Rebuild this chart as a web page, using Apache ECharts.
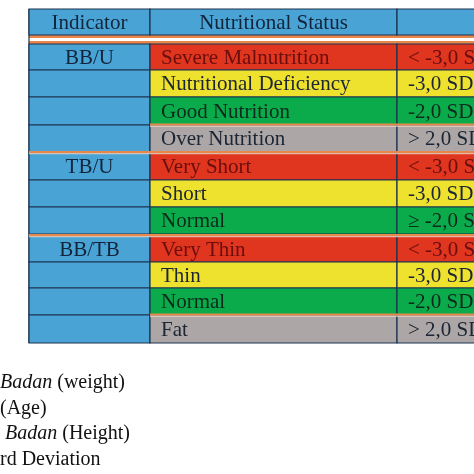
<!DOCTYPE html>
<html>
<head>
<meta charset="utf-8">
<script src="https://cdn.jsdelivr.net/npm/echarts@6/dist/echarts.min.js"></script>
<style>html,body{margin:0;padding:0;background:#fff}#main{width:474px;height:474px}</style>
</head>
<body>
<div id="main"></div>
<script>
// table content
var headers = ['Indicator', 'Nutritional Status', 'Z-Score'];
var indicators = ['BB/U', 'TB/U', 'BB/TB'];
var statuses = [
  ['Severe Malnutrition', 'Nutritional Deficiency', 'Good Nutrition', 'Over Nutrition'],
  ['Very Short', 'Short', 'Normal'],
  ['Very Thin', 'Thin', 'Normal', 'Fat']
];
var ranges = [
  ['< -3,0 SD', '-3,0 SD s/d < -2,0 SD', '-2,0 SD s/d 2,0 SD', '> 2,0 SD'],
  ['< -3,0 SD', '-3,0 SD s/d < -2,0 SD', '≥ -2,0 SD'],
  ['< -3,0 SD', '-3,0 SD s/d < -2,0 SD', '-2,0 SD s/d 2,0 SD', '> 2,0 SD']
];
var levels = [[0, 1, 2, 3], [0, 1, 2], [0, 1, 2, 3]];
var notes = [
  [{t: 'Badan', i: true}, {t: ' (weight)'}],
  [{t: '(Age)'}],
  [{t: ' Badan', i: true}, {t: ' (Height)'}],
  [{t: 'rd Deviation'}]
];

// layout
var colX = [29, 150, 397, 600];
var rowTop = [[44, 70, 97, 125, 152], [153, 180, 207, 234], [236, 262, 288, 315, 343]];
var fills = ['#e0351f', '#efe22f', '#0bab4b', '#aca6a6'];
var txtCol = ['#6a0e0e', '#1b2533', '#0f2a1c', '#1b2533'];
var blue = '#4aa3d5', line = '#1c3350', orange = '#e8874c';
var font = '"Liberation Serif", "Times New Roman", serif';

var cells = [];
cells.push([colX[0], 9, colX[1], 35, blue, headers[0], '#12243a', 'center']);
cells.push([colX[1], 9, colX[2], 35, blue, headers[1], '#12243a', 'center']);
cells.push([colX[2], 9, colX[3], 35, blue, '', '#12243a', 'center']);
var seps = [];
indicators.forEach(function (ind, g) {
  statuses[g].forEach(function (s, k) {
    var y0 = rowTop[g][k], y1 = rowTop[g][k + 1];
    var lv = levels[g][k];
    cells.push([colX[0], y0, colX[1], y1, blue, k === 0 ? ind : '', '#12243a', 'center']);
    cells.push([colX[1], y0, colX[2], y1, fills[lv], s, txtCol[lv], 'left']);
    cells.push([colX[2], y0, colX[3], y1, fills[lv], ranges[g][k], txtCol[lv], 'left']);
    if (lv === 3) seps.push(y0);
  });
  if (g > 0) seps.push(rowTop[g][0] - 0.5);
});

var chart = echarts.init(document.getElementById('main'));
chart.setOption({
  animation: false,
  grid: {left: 0, top: 0, right: 0, bottom: 0},
  xAxis: {type: 'value', min: 0, max: 474, show: false},
  yAxis: {type: 'value', min: 0, max: 474, inverse: true, show: false},
  series: [{
    type: 'custom',
    data: cells,
    renderItem: function (params, api) {
      var d = cells[params.dataIndex];
      var p0 = api.coord([d[0], d[1]]), p1 = api.coord([d[2], d[3]]);
      var tx = d[7] === 'center' ? (p0[0] + p1[0]) / 2 : p0[0] + 11;
      return {
        type: 'group',
        children: [
          {type: 'rect', shape: {x: p0[0], y: p0[1], width: p1[0] - p0[0], height: p1[1] - p0[1]},
            style: {fill: d[4], stroke: line, lineWidth: 1.2}},
          {type: 'text', style: {x: tx, y: (p0[1] + p1[1]) / 2 + 1, text: d[5], fill: d[6],
            font: '21px ' + font, align: d[7], verticalAlign: 'middle'}}
        ]
      };
    }
  }, {
    type: 'custom',
    data: seps,
    renderItem: function (params, api) {
      var y = seps[params.dataIndex];
      var a = api.coord([colX[1], y]), b = api.coord([colX[3], y]);
      if (params.dataIndex >= 0 && statusIsGroupSep(y)) a = api.coord([colX[0], y]);
      return {type: 'group', children: [
        {type: 'line', shape: {x1: a[0], y1: a[1] - 0.5, x2: b[0], y2: b[1] - 0.5}, style: {stroke: orange, lineWidth: 2}},
        {type: 'line', shape: {x1: a[0], y1: a[1] + 1.2, x2: b[0], y2: b[1] + 1.2}, style: {stroke: '#f5d8c4', lineWidth: 1}}
      ]};
    }
  }],
  graphic: [
    {type: 'rect', shape: {x: colX[0], y: 35, width: 474 - colX[0], height: 9}, style: {fill: '#fff'}},
    {type: 'rect', shape: {x: colX[0], y: 35, width: 474 - colX[0], height: 3}, style: {fill: orange}},
    {type: 'rect', shape: {x: colX[0], y: 41, width: 474 - colX[0], height: 3}, style: {fill: orange}},
    {type: 'line', shape: {x1: colX[0], y1: 9, x2: colX[0], y2: 343}, style: {stroke: line, lineWidth: 1.2}}
  ].concat(notes.map(function (parts, i) {
    return {type: 'text', x: 0, y: 383 + i * 25.5, style: {
      rich: {it: {font: 'italic 20px ' + font, fill: '#111'}, n: {font: '20px ' + font, fill: '#111'}},
      text: parts.map(function (p) { return '{' + (p.i ? 'it' : 'n') + '|' + p.t + '}'; }).join(''),
      verticalAlign: 'middle'}};
  }))
});
function statusIsGroupSep(y) { return y % 1 !== 0; }
</script>
</body>
</html>
